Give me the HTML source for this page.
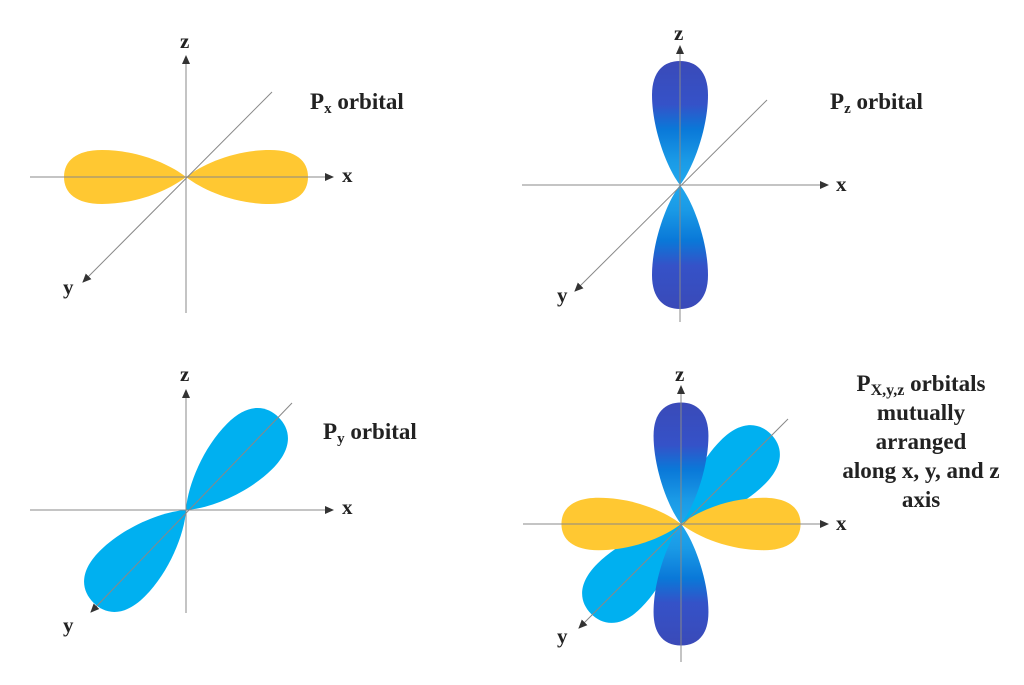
<!DOCTYPE html>
<html><head><meta charset="utf-8"><style>
html,body{margin:0;padding:0;background:#fff}
svg{display:block}
text{font-family:"Liberation Serif",serif;fill:#222;font-weight:bold}
</style></head><body>
<svg width="1024" height="685" viewBox="0 0 1024 685" xmlns="http://www.w3.org/2000/svg">
<defs>
<marker id="ar" markerWidth="10" markerHeight="10" refX="8" refY="4" orient="auto" markerUnits="userSpaceOnUse">
<path d="M0,0 L9,4 L0,8 Z" fill="#333"/></marker>
<linearGradient id="bg" x1="1" y1="0" x2="0" y2="0">
<stop offset="0" stop-color="#3a4ab8"/><stop offset="0.35" stop-color="#3552c8"/>
<stop offset="0.55" stop-color="#0a78d8"/><stop offset="0.8" stop-color="#1a9ae6"/><stop offset="1" stop-color="#20a8ee"/>
</linearGradient>
<path id="lx" d="M0,0 C18,-14 50,-27 84,-27 C110,-27 122,-16 122,0 C122,16 110,27 84,27 C50,27 18,14 0,0Z"/>
<path id="lz" d="M0,0 C18,-14 58,-28 90,-28 C114,-28 124,-16 124,0 C124,16 114,28 90,28 C58,28 18,14 0,0Z" fill="url(#bg)"/>
<path id="ly" d="M0,0 C18,-16 56,-32 90,-32 C120,-32 131,-17 131,0 C131,17 120,32 90,32 C56,32 18,16 0,0Z"/>
</defs>

<g transform="translate(186,177)">
<use href="#lx" fill="#ffc832"/>
<use href="#lx" fill="#ffc832" transform="rotate(180)"/>
</g>
<g stroke="#888" stroke-width="1">
<line x1="30" y1="177" x2="333" y2="177" marker-end="url(#ar)"/>
<line x1="186" y1="313" x2="186" y2="56" marker-end="url(#ar)"/>
<line x1="272" y1="92" x2="83" y2="282" marker-end="url(#ar)"/>
</g>
<text x="180" y="48" font-size="21">z</text>
<text x="342" y="182" font-size="21">x</text>
<text x="63" y="294" font-size="21">y</text>
<text x="310" y="109" font-size="23">P<tspan font-size="15" dy="4">x</tspan><tspan dy="-4"> orbital</tspan></text>

<g transform="translate(680,185)">
<use href="#lz" transform="rotate(-90)"/>
<use href="#lz" transform="rotate(90)"/>
</g>
<g stroke="#888" stroke-width="1">
<line x1="522" y1="185" x2="828" y2="185" marker-end="url(#ar)"/>
<line x1="680" y1="322" x2="680" y2="46" marker-end="url(#ar)"/>
<line x1="767" y1="100" x2="575" y2="291" marker-end="url(#ar)"/>
</g>
<text x="674" y="40" font-size="21">z</text>
<text x="836" y="191" font-size="21">x</text>
<text x="557" y="302" font-size="21">y</text>
<text x="830" y="109" font-size="23">P<tspan font-size="15" dy="4">z</tspan><tspan dy="-4"> orbital</tspan></text>

<g transform="translate(186,510)">
<use href="#ly" fill="#00b0f0" transform="rotate(-45)"/>
<use href="#ly" fill="#00b0f0" transform="rotate(135)"/>
</g>
<g stroke="#888" stroke-width="1">
<line x1="30" y1="510" x2="333" y2="510" marker-end="url(#ar)"/>
<line x1="186" y1="613" x2="186" y2="390" marker-end="url(#ar)"/>
<line x1="292" y1="403" x2="91" y2="612" marker-end="url(#ar)"/>
</g>
<text x="180" y="381" font-size="21">z</text>
<text x="342" y="514" font-size="21">x</text>
<text x="63" y="632" font-size="21">y</text>
<text x="323" y="439" font-size="23">P<tspan font-size="15" dy="4">y</tspan><tspan dy="-4"> orbital</tspan></text>

<g transform="translate(681,524)">
<use href="#ly" fill="#00b0f0" transform="rotate(-45) scale(0.97)"/>
<use href="#ly" fill="#00b0f0" transform="rotate(135) scale(0.97)"/>
<use href="#lz" transform="rotate(-90) scale(0.98,0.98)"/>
<use href="#lz" transform="rotate(90) scale(0.98,0.98)"/>
<use href="#lx" fill="#ffc832" transform="scale(0.98,0.97)"/>
<use href="#lx" fill="#ffc832" transform="rotate(180) scale(0.98,0.97)"/>
</g>
<g stroke="#888" stroke-width="1">
<line x1="523" y1="524" x2="828" y2="524" marker-end="url(#ar)"/>
<line x1="681" y1="662" x2="681" y2="386" marker-end="url(#ar)"/>
<line x1="788" y1="419" x2="579" y2="628" marker-end="url(#ar)"/>
</g>
<text x="675" y="381" font-size="21">z</text>
<text x="836" y="530" font-size="21">x</text>
<text x="557" y="643" font-size="21">y</text>
<g font-size="23" text-anchor="middle">
<text x="921" y="391">P<tspan font-size="16" dy="4">X,y,z</tspan><tspan dy="-4"> orbitals</tspan></text>
<text x="921" y="420">mutually</text>
<text x="921" y="449">arranged</text>
<text x="921" y="478">along x, y, and z</text>
<text x="921" y="507">axis</text>
</g>
</svg>
</body></html>
